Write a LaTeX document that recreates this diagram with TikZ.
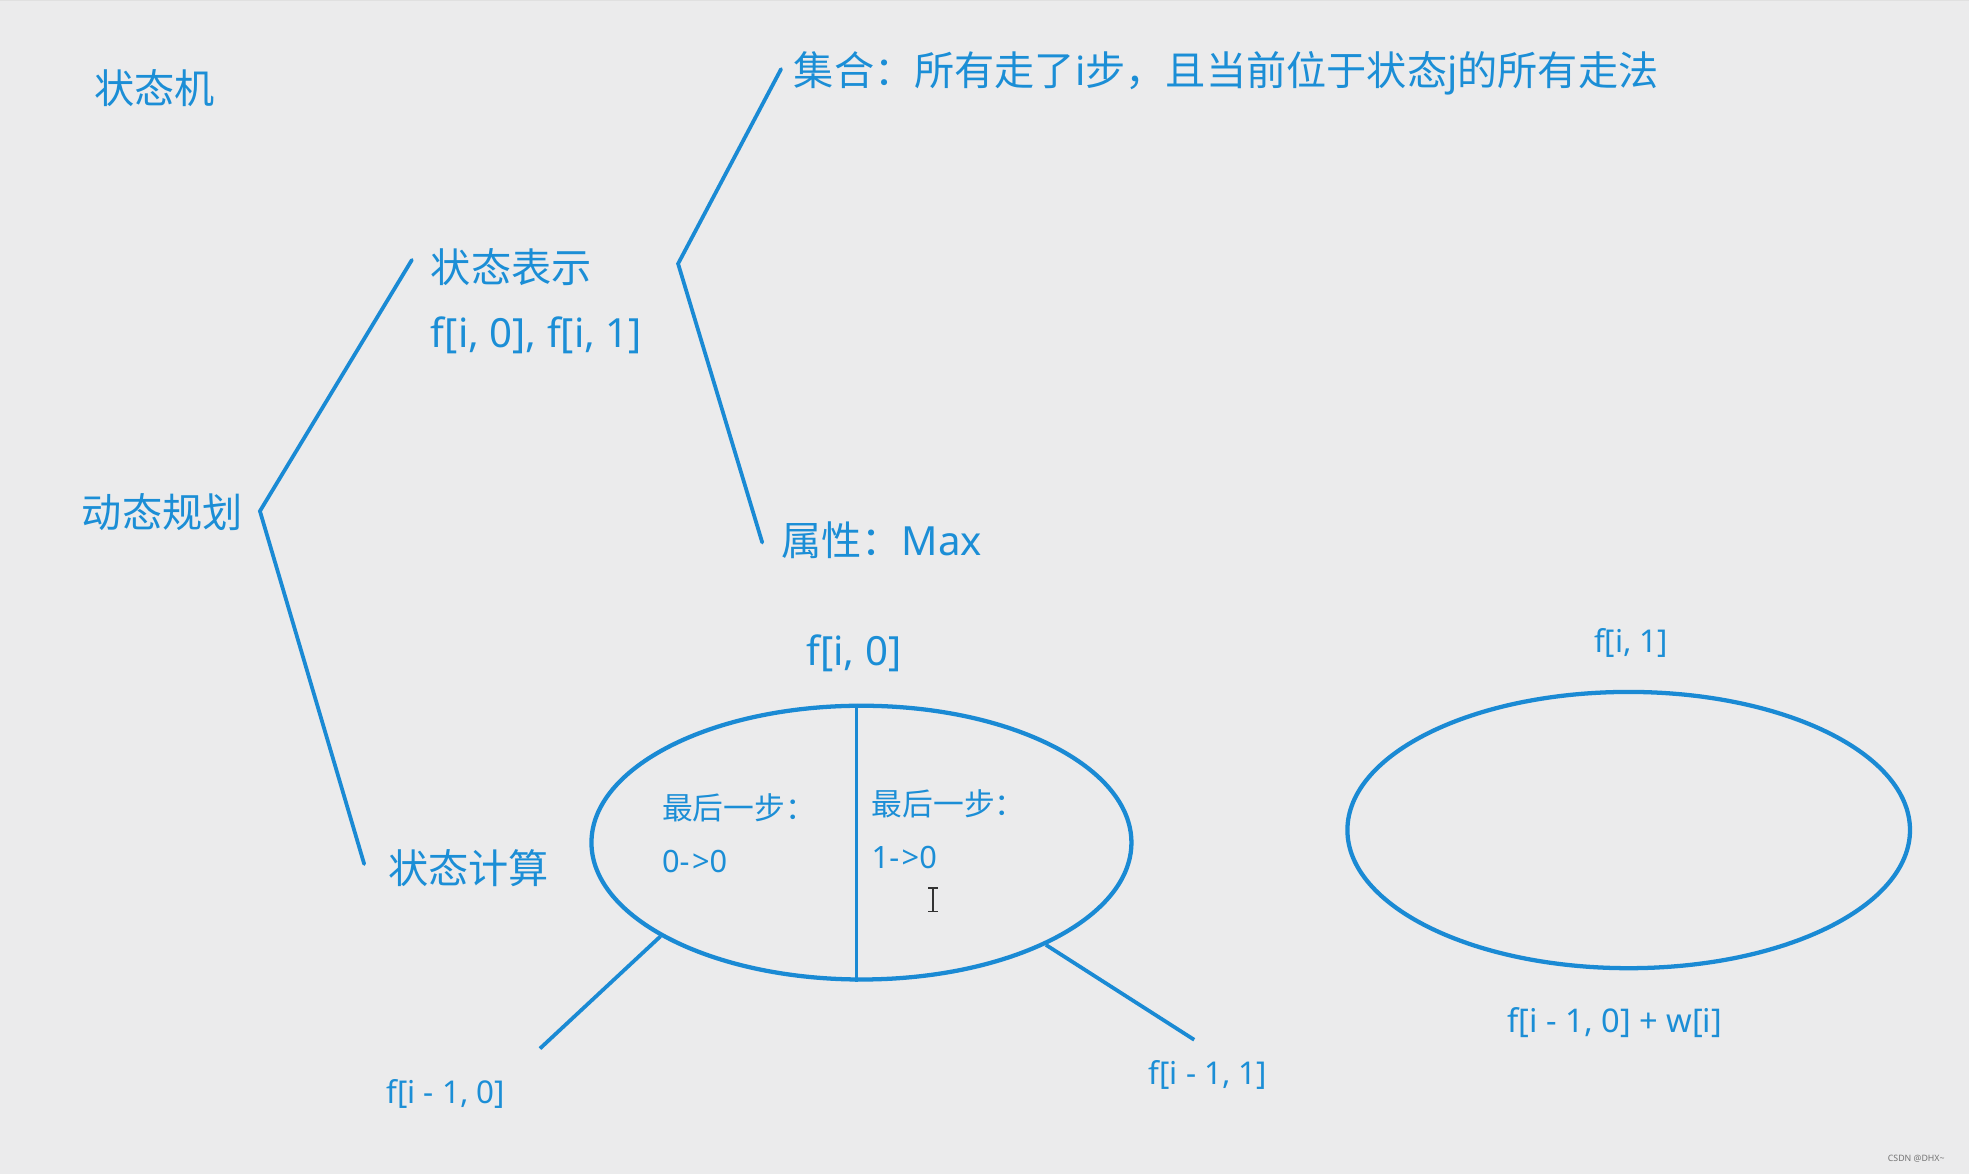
\documentclass[tikz,border=0pt]{standalone}
\usepackage{fontspec}
\setmainfont{Noto Sans}
\newfontfamily\cjk{Noto Sans CJK SC}
\usetikzlibrary{shapes.geometric,calc}
\definecolor{bg}{HTML}{EBEBEC}
\definecolor{ink}{HTML}{1B8ED6}
\definecolor{wire}{HTML}{1A8AD4}
\tikzset{
  x=1pt, y=-1pt,
  big/.style={text=ink, inner sep=0pt, font=\fontsize{32}{36}\selectfont},
  mid/.style={text=ink, inner sep=0pt, font=\fontsize{25}{30}\selectfont},
  small/.style={text=ink, inner sep=0pt, font=\fontsize{24.5}{28}\selectfont},
  wireline/.style={draw=wire, line width=3pt, line cap=round},
  oval/.style={draw=wire, line width=3.4pt, ellipse, inner sep=0pt},
}
\begin{document}
\begin{tikzpicture}
\fill[bg] (0,0) rectangle (1568,935);
\useasboundingbox (0,0) rectangle (1568,935);
\draw[draw=black!12, line width=1pt] (0,0.5) -- (1568,0.5);

% texts
\node[big, anchor=west] (zt) at (75,70) {\cjk 状态机};
\node[big, anchor=west] (dp) at (65,408) {\cjk 动态规划};
\node[big, anchor=west] (rep) at (343,213) {\cjk 状态表示};
\node[big, anchor=west] (repf) at (343,267) {f[i, 0], f[i, 1]};
\node[big, anchor=west] (set) at (632,58) {{\cjk 集合：所有走了}i{\cjk 步，且当前位于状态}j{\cjk 的所有走法}};
\node[big, anchor=west] (attr) at (622,430) {{\cjk 属性：}Max};
\node[big, anchor=west] (calc) at (309,691) {\cjk 状态计算};

% tree connectors
\coordinate (t1) at (328,207);
\coordinate (t0) at (207,407);
\coordinate (t2) at (290,688);
\draw[wireline] (t1) -- (t0) -- (t2);
\coordinate (s1) at (622,55);
\coordinate (s0) at (540,210);
\coordinate (s2) at (607,432);
\draw[wireline] (s1) -- (s0) -- (s2);

% first ellipse
\node[big, anchor=center] (f0) at (680,520) {f[i, 0]};
\node[oval, minimum width=430pt, minimum height=218pt] (e1) at (686,671) {};
\draw[wireline, line cap=butt] ($(e1.north)+(-4,0)$) -- ($(e1.south)+(-4,0)$);
\node[small, anchor=west] (l1) at (527,643) {\cjk 最后一步：};
\node[small, anchor=west] (l2) at (527,686) {0-\kern2pt>0};
\node[small, anchor=west] (r1) at (694,640) {\cjk 最后一步：};
\node[small, anchor=west] (r2) at (694,683) {1-\kern2pt>0};
\coordinate (a1) at (430,835);
\coordinate (a2) at (951,828);
\draw[wireline, line cap=butt] (e1.205.7) -- (a1);
\draw[wireline, line cap=butt] (e1.331.9) -- (a2);
\node[mid, anchor=center] (fa) at (355,871) {f[i - 1, 0]};
\node[mid, anchor=center] (fb) at (962,856) {f[i - 1, 1]};

% text cursor
\draw[black!80, line width=1.2pt] (743,707) -- (743,726) (739,707) -- (747,707) (739,726) -- (747,726);

% second ellipse
\node[mid, anchor=center] (f1) at (1299,512) {f[i, 1]};
\node[oval, minimum width=448pt, minimum height=220pt] (e2) at (1297,661) {};
\node[mid, anchor=center, font=\fontsize{26}{30}\selectfont] (fc) at (1286,814) {f[i - 1, 0] + w[i]};

% watermark
\node[text=black!55, inner sep=0pt, font=\fontsize{7}{8}\selectfont] (wm) at (1526,923) {CSDN @DHX\textasciitilde};
\end{tikzpicture}
\end{document}
